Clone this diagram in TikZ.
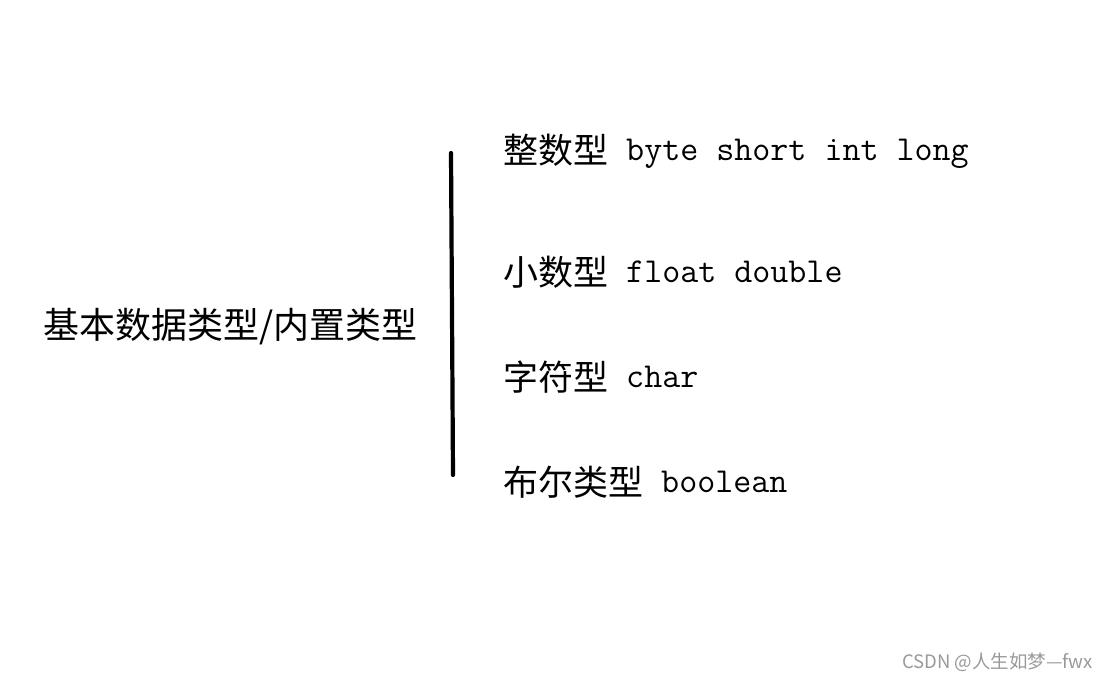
\documentclass[tikz,border=0pt]{standalone}
\usepackage{fontspec}
\newfontfamily\cjk{Noto Sans CJK SC}
\newcommand{\zh}[1]{\raisebox{-3pt}{\cjk #1}}
\usepackage{tikz}
\usetikzlibrary{positioning}

\tikzset{
  typetext/.style={anchor=base west, inner sep=0pt, font=\fontsize{35}{40}\selectfont\ttfamily},
  bracketline/.style={line width=4.2pt, black, line cap=round},
}

\begin{document}
\begin{tikzpicture}[x=1pt, y=-1pt]
  \useasboundingbox (0,0) rectangle (1108,681);
  % bracket (two pieces)
  \coordinate (top) at (451,153);
  \coordinate (mid) at (452,314);
  \coordinate (bot) at (453,475);
  \draw [bracketline] (top) -- (mid);
  \draw [bracketline] (mid) -- (bot);

  \node[anchor=base west, inner sep=0pt, font=\fontsize{36}{40}\selectfont\cjk] (basic) at (43,338) {基本数据类型/内置类型};

  \node[typetext] (int)   at (503,160) {\zh{整数型} byte short int long};
  \node[typetext] (float) at (503,282) {\zh{小数型} float double};
  \node[typetext] (chr)   at (503,387) {\zh{字符型} char};
  \node[typetext] (bool)  at (503,492) {\zh{布尔类型} boolean};

  \node[anchor=east, inner sep=0pt, text=black!40, font=\fontsize{18.5}{22}\selectfont\cjk] (mark) at (1093,662) {CSDN @人生如梦—fwx};
\end{tikzpicture}
\end{document}
